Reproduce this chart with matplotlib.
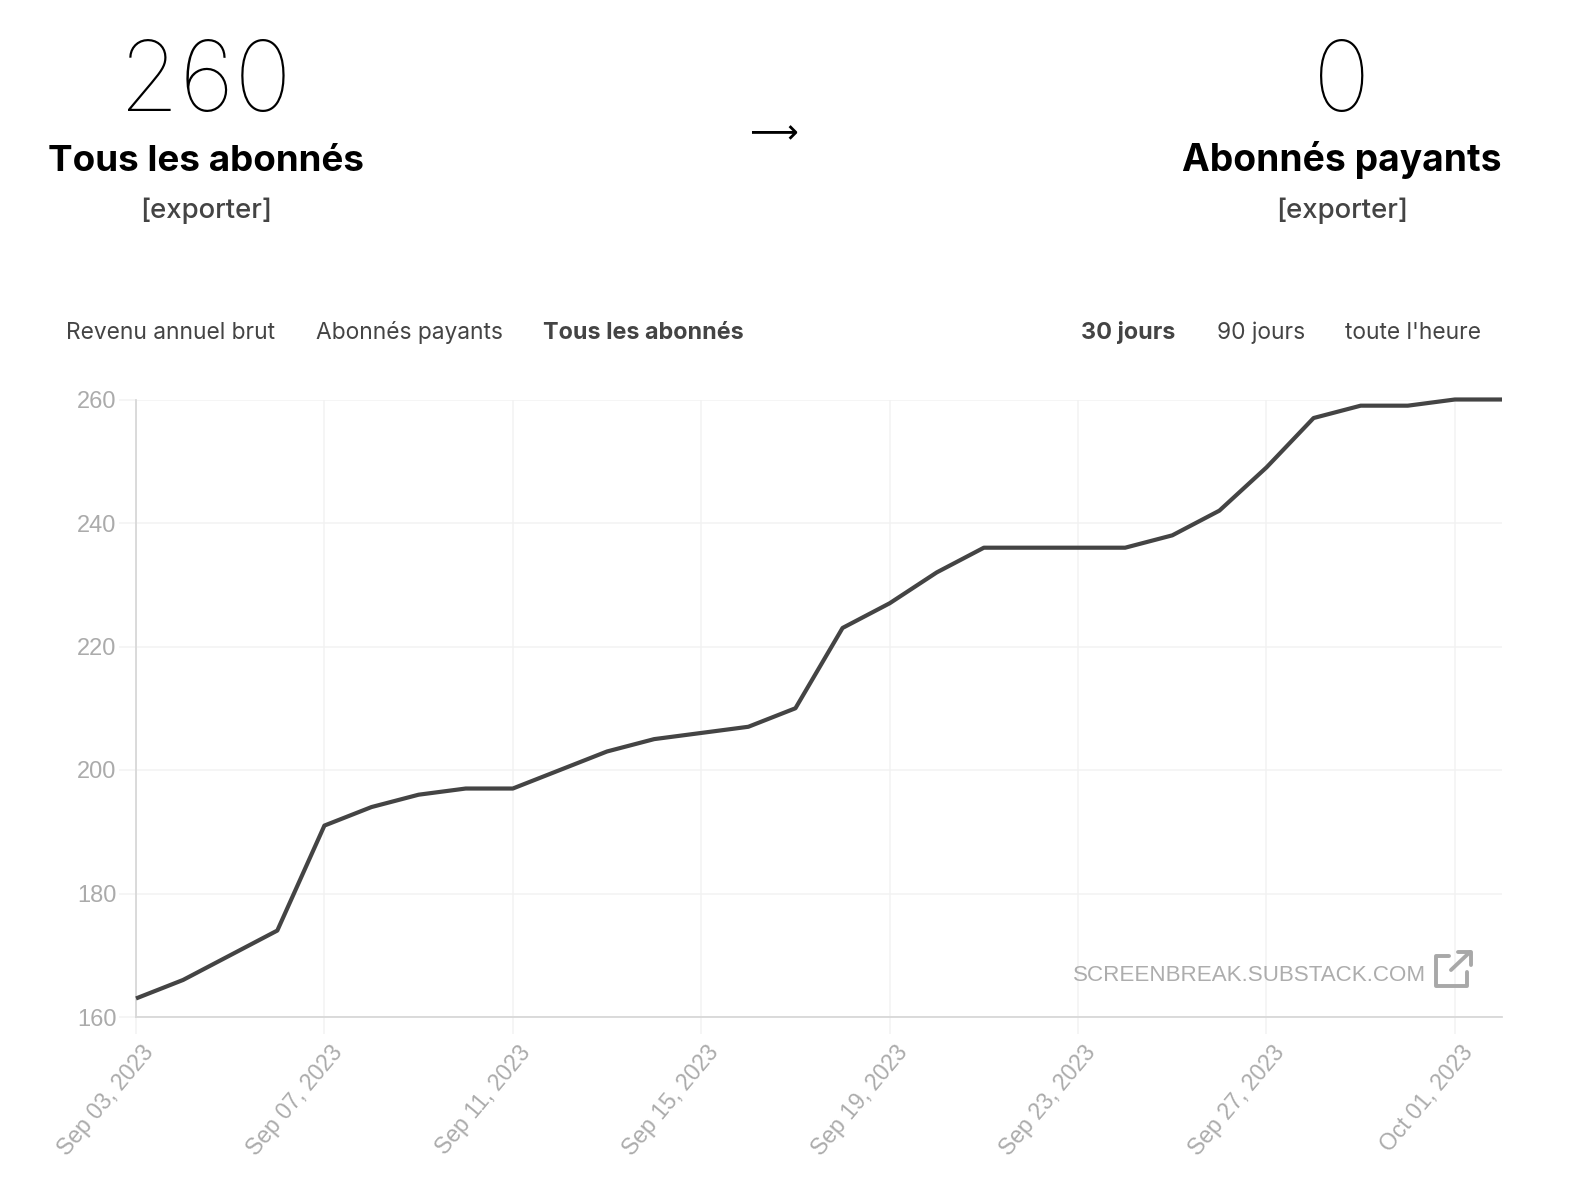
import numpy as np
import pandas as pd
import matplotlib
matplotlib.use("Agg")
import matplotlib.pyplot as plt
import matplotlib.dates as mdates
from matplotlib.lines import Line2D
from matplotlib.transforms import ScaledTranslation

# subscribers per day
dates = pd.date_range("2023-09-03", "2023-10-02", freq="D")
subscribers = [163, 166, 170, 174, 191, 194, 196, 197, 197, 200,
               203, 205, 206, 207, 210, 223, 227, 232, 236, 236,
               236, 236, 238, 242, 249, 257, 259, 259, 260, 260]
y_ticks = [160, 180, 200, 220, 240, 260]
tabs_left = ["Revenu annuel brut", "Abonnés payants", "Tous les abonnés"]
tabs_right = ["30 jours", "90 jours", "toute l'heure"]

W, H = 1574, 1190
FONT = "Inter"
DARK = "#444444"
GREY = "#ababab"

fig = plt.figure(figsize=(W / 100, H / 100), dpi=100)
ax = fig.add_axes([136 / W, 1 - 1017 / H, (1502 - 136) / W, (1017 - 399.5) / H])


def px_text(x, y, s, size, weight="normal", color="black", ha="center", family=FONT, **kw):
    # y is the text baseline in image pixels
    return fig.text(x / W, 1 - y / H, s, fontsize=size, fontweight=weight, color=color,
                    ha=ha, va="baseline", family=family, **kw)


ax.plot(dates, subscribers, color=DARK, lw=3, solid_joinstyle="round", solid_capstyle="butt",
        clip_on=False, zorder=3)

ax.set_xlim(dates[0], dates[-1])
ax.set_ylim(160, 260)
ax.set_yticks(y_ticks)
ax.xaxis.set_major_locator(mdates.DayLocator(bymonthday=[3, 7, 11, 15, 19, 23, 27, 1]))
ax.xaxis.set_major_formatter(mdates.DateFormatter("%b %d, %Y"))
ax.grid(True, color="#f2f2f2", lw=1.1)
ax.set_axisbelow(True)
for side in ["top", "right"]:
    ax.spines[side].set_visible(False)
for side in ["left", "bottom"]:
    ax.spines[side].set_color("#d8d8d8")
    ax.spines[side].set_linewidth(1.3)
ax.tick_params(axis="y", color="#f2f2f2", width=1.1, length=12, pad=2, labelcolor=GREY)
ax.tick_params(axis="x", color="#f2f2f2", width=1.1, length=12, pad=3.5, labelcolor=GREY)
for lab in ax.get_yticklabels():
    lab.set_family("Liberation Sans")
    lab.set_fontsize(17)
shift = ScaledTranslation(5 / 100, -3 / 100, fig.dpi_scale_trans)
for lab in ax.get_xticklabels():
    lab.set_family("Liberation Sans")
    lab.set_fontsize(16.5)
    lab.set_rotation(50)
    lab.set_ha("right")
    lab.set_rotation_mode("anchor")
    lab.set_transform(lab.get_transform() + shift)

# header
px_text(205, 111, "260", 70, weight=100)
px_text(1342, 111, "0", 70, weight=100)
px_text(206.5, 171, "Tous les abonnés", 26.5, weight="bold")
px_text(1342, 171, "Abonnés payants", 26.8, weight="bold")
px_text(206.5, 218, "[exporter]", 19.8, weight="medium", color=DARK)
px_text(1342, 218, "[exporter]", 19.8, weight="medium", color=DARK)
px_text(773, 143, "⟶", 24.5, family="DejaVu Sans")

# tabs
for x, s, w, size in zip([66, 316, 543], tabs_left, ["normal", "normal", "bold"], [16.4, 16.4, 16.8]):
    px_text(x, 339, s, size, weight=w, color=DARK, ha="left")
for x, s, w, size in zip([1081, 1217, 1345], tabs_right, ["bold", "normal", "normal"], [16.8, 16.4, 16.4]):
    px_text(x, 339, s, size, weight=w, color=DARK, ha="left")

# watermark and link icon
px_text(1073, 981, "SCREENBREAK.SUBSTACK.COM", 16.1, color="#adadad", ha="left", family="Liberation Sans")
icon_paths = [
    ([1449, 1436, 1436, 1467, 1467], [956, 956, 986, 986, 972]),
    ([1451, 1470], [970, 952]),
    ([1458, 1471, 1471], [952, 952, 965]),
]
for xs, ys in icon_paths:
    fig.add_artist(Line2D(np.array(xs) / W, 1 - np.array(ys) / H, color="#a8a8a8", lw=2.8,
                          solid_joinstyle="round", solid_capstyle="round"))

fig.savefig("out.png", dpi=100)
